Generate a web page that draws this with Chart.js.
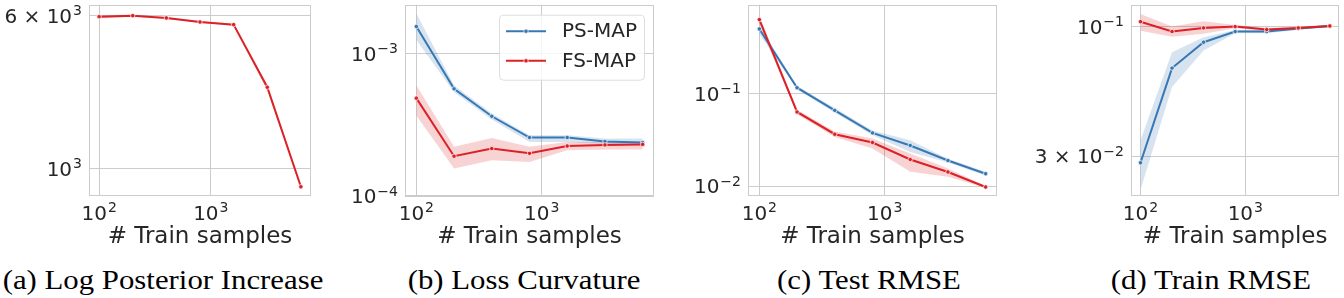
<!DOCTYPE html>
<html>
<head>
<meta charset="utf-8">
<script src="https://cdn.jsdelivr.net/npm/chart.js@4.4.1/dist/chart.umd.min.js"></script>
<style>
  html, body { margin: 0; padding: 0; background: #fff; }
  #wrap { position: relative; width: 1344px; height: 298px; overflow: hidden; }
  #wrap canvas { position: absolute; top: 0; }
  .cap {
    position: absolute; top: 266px; width: 400px; text-align: center;
    font-family: "Liberation Serif", "Times New Roman", serif;
    font-size: 28px; line-height: 28px; color: #000;
    white-space: nowrap; transform: scaleX(1.1); transform-origin: center;
  }
</style>
</head>
<body>
<div id="wrap">
  <canvas id="chartA" width="336" height="260" style="left:0px"></canvas>
  <canvas id="chartB" width="336" height="260" style="left:336px"></canvas>
  <canvas id="chartC" width="336" height="260" style="left:672px"></canvas>
  <canvas id="chartD" width="336" height="260" style="left:1008px"></canvas>
</div>
<script>
// ---- data ----
const trainSizes = [100, 200, 400, 800, 1600, 3200, 6400];
const xTickValues = [100, 1000];
const xTickLabels = ["10^2", "10^3"];
const xTitle = "# Train samples";
const seriesNames = ["PS-MAP", "FS-MAP"];
const captions = ["(a) Log Posterior Increase", "(b) Loss Curvature", "(c) Test RMSE", "(d) Train RMSE"];

// (a) log posterior increase, FS-MAP only
const logPostFsMean = [5930, 6000, 5840, 5570, 5400, 2590, 806];
const logPostFsLow  = [5810, 5930, 5780, 5510, 5340, 2490, 790];
const logPostFsHigh = [6050, 6070, 5900, 5630, 5460, 2690, 822];
const yTicksA = [6000, 1000];
const yLabelsA = ["6 × 10^3", "10^3"];

// (b) loss curvature
const curvPsMean = [1.54e-3, 5.64e-4, 3.62e-4, 2.57e-4, 2.57e-4, 2.41e-4, 2.37e-4];
const curvPsLow  = [1.24e-3, 5.34e-4, 3.43e-4, 2.39e-4, 2.39e-4, 2.31e-4, 2.31e-4];
const curvPsHigh = [1.90e-3, 5.96e-4, 3.78e-4, 2.67e-4, 2.67e-4, 2.53e-4, 2.53e-4];
const curvFsMean = [4.85e-4, 1.90e-4, 2.15e-4, 1.99e-4, 2.24e-4, 2.28e-4, 2.30e-4];
const curvFsLow  = [3.67e-4, 1.56e-4, 1.78e-4, 1.73e-4, 2.09e-4, 2.12e-4, 2.12e-4];
const curvFsHigh = [5.96e-4, 2.21e-4, 2.55e-4, 2.21e-4, 2.39e-4, 2.39e-4, 2.40e-4];
const yTicksB = [1e-3, 1e-4];
const yLabelsB = ["10^−3", "10^−4"];

// (c) test RMSE
const testPsMean = [0.502, 0.116, 0.066, 0.0376, 0.0275, 0.0189, 0.0136];
const testPsLow  = [0.444, 0.112, 0.062, 0.0355, 0.0234, 0.0180, 0.0130];
const testPsHigh = [0.546, 0.121, 0.070, 0.0400, 0.0313, 0.0198, 0.0143];
const testFsMean = [0.634, 0.0634, 0.0364, 0.0296, 0.0194, 0.0142, 0.00975];
const testFsLow  = [0.569, 0.0600, 0.0340, 0.0255, 0.0143, 0.0126, 0.0095];
const testFsHigh = [0.700, 0.0670, 0.0390, 0.0327, 0.0225, 0.0155, 0.0100];
const yTicksC = [0.1, 0.01];
const yLabelsC = ["10^−1", "10^−2"];

// (d) train RMSE
const trainPsMean = [0.0282, 0.0680, 0.0865, 0.0955, 0.0955, 0.0982, 0.1006];
const trainPsLow  = [0.0219, 0.0570, 0.0801, 0.0940, 0.0940, 0.0970, 0.0995];
const trainPsHigh = [0.0348, 0.0788, 0.0906, 0.0970, 0.0968, 0.0995, 0.1017];
const trainFsMean = [0.1047, 0.0955, 0.0988, 0.1000, 0.0973, 0.0988, 0.1006];
const trainFsLow  = [0.0963, 0.0911, 0.0935, 0.0985, 0.0960, 0.0975, 0.0995];
const trainFsHigh = [0.1125, 0.1000, 0.1050, 0.1015, 0.0987, 0.1000, 0.1017];
const yTicksD = [0.1, 0.03];
const yLabelsD = ["10^−1", "3 × 10^−2"];

// ---- styling ----
const BLUE = "#3778b4";
const RED = "#dc2126";
const BLUE_FILL = "rgba(55,120,180,0.2)";
const RED_FILL = "rgba(220,33,38,0.2)";
const GRID = "#cccccc";
const TEXT = "#262626";
const FONT = "DejaVu Sans";
const X_RANGE = [81.2, 7882];

Chart.defaults.font.family = FONT;

// draws "10^3" style tick labels with a raised exponent
const supTicks = {
    id: "supTicks",
    afterDraw(chart, args, opts) {
        const { ctx, chartArea } = chart;
        const draw = (label, x, baseline, align) => {
            const [base, exp = ""] = label.split("^");
            ctx.font = `20px "${FONT}"`;
            const wb = ctx.measureText(base).width;
            ctx.font = `14px "${FONT}"`;
            const we = exp ? ctx.measureText(exp).width + 1 : 0;
            const start = align === "right" ? x - wb - we : x - (wb + we) / 2;
            ctx.font = `20px "${FONT}"`;
            ctx.fillText(base, start, baseline);
            if (exp) {
                ctx.font = `14px "${FONT}"`;
                ctx.fillText(exp, start + wb + 1, baseline - 7.7);
            }
        };
        ctx.save();
        ctx.fillStyle = TEXT;
        ctx.textBaseline = "alphabetic";
        ctx.textAlign = "left";
        const xs = chart.scales.x, ys = chart.scales.y;
        opts.xValues.forEach((v, i) => {
            draw(opts.xLabels[i], xs.getPixelForValue(v), chartArea.bottom + 24, "center");
        });
        opts.yValues.forEach((v, i) => {
            draw(opts.yLabels[i], chartArea.left - 7, ys.getPixelForValue(v) + 7.3, "right");
        });
        ctx.restore();
    }
};

// light grey frame round the axes
const frame = {
    id: "frame",
    afterDatasetsDraw(chart) {
        const { ctx, chartArea: a } = chart;
        ctx.save();
        ctx.strokeStyle = GRID;
        ctx.lineWidth = 1;
        ctx.strokeRect(Math.round(a.left) + 0.5, Math.round(a.top) + 0.5,
            Math.round(a.right - a.left) - 1, Math.round(a.bottom - a.top) - 1);
        ctx.restore();
    }
};

// legend box inside the plot (panel b)
const boxLegend = {
    id: "boxLegend",
    afterDraw(chart, args, opts) {
        if (!opts.display) return;
        const { ctx, chartArea: a } = chart;
        const items = chart.data.datasets.filter(d => d.inLegend);
        const w = 145, h = 65;
        const left = a.right - 10 - w, top = a.top + 10;
        ctx.save();
        ctx.fillStyle = "rgba(255,255,255,0.8)";
        ctx.strokeStyle = "#dddddd";
        ctx.lineWidth = 1;
        ctx.beginPath();
        ctx.roundRect(left + 0.5, top + 0.5, w, h, 4);
        ctx.fill();
        ctx.stroke();
        items.forEach((d, i) => {
            const y = top + 16.5 + i * 29.6;
            ctx.strokeStyle = d.borderColor;
            ctx.lineWidth = 2;
            ctx.beginPath();
            ctx.moveTo(left + 7, y);
            ctx.lineTo(left + 47, y);
            ctx.stroke();
            ctx.fillStyle = d.borderColor;
            ctx.strokeStyle = "#fff";
            ctx.lineWidth = 0.7;
            ctx.beginPath();
            ctx.arc(left + 27, y, 2.2, 0, Math.PI * 2);
            ctx.fill();
            ctx.stroke();
            ctx.fillStyle = TEXT;
            ctx.font = `20px "${FONT}"`;
            ctx.textBaseline = "middle";
            ctx.fillText(d.label, left + 63, y + 1);
        });
        ctx.restore();
    }
};

function points(vals) {
    return trainSizes.map((x, i) => ({ x: x, y: vals[i] }));
}

function buildDatasets(series) {
    const bands = [], lines = [];
    series.forEach((s, k) => {
        bands.push({ label: "", data: points(s.low), borderWidth: 0, pointRadius: 0, fill: false, order: 10 });
        bands.push({ label: "", data: points(s.high), borderWidth: 0, pointRadius: 0,
            fill: "-1", backgroundColor: s.fill, order: 10 });
        lines.push({
            label: s.name, inLegend: true, data: points(s.mean),
            borderColor: s.color, backgroundColor: s.color, borderWidth: 2,
            pointRadius: 2.2, pointBackgroundColor: s.color, pointBorderColor: "#fff",
            pointBorderWidth: 0.7, tension: 0, fill: false, order: series.length - k
        });
    });
    return bands.concat(lines);
}

function makePanel(p) {
    const canvas = document.getElementById(p.id);
    if (!canvas) return null;
    return new Chart(canvas, {
        type: "line",
        data: { datasets: buildDatasets(p.series) },
        options: {
            responsive: false,
            animation: false,
            devicePixelRatio: 1,
            events: [],
            layout: { padding: { left: 0, right: p.padRight, top: 4, bottom: 0 } },
            plugins: {
                legend: { display: false },
                tooltip: { enabled: false },
                supTicks: { xValues: xTickValues, xLabels: xTickLabels, yValues: p.yTicks, yLabels: p.yLabels },
                boxLegend: { display: !!p.legend }
            },
            scales: {
                x: {
                    type: "logarithmic", min: X_RANGE[0], max: X_RANGE[1], bounds: "data",
                    grid: { color: GRID, lineWidth: 1, drawTicks: false },
                    border: { display: false },
                    ticks: { display: false },
                    title: { display: true, text: xTitle, color: TEXT,
                        font: { size: 23, family: FONT }, padding: { top: 0, bottom: 9 } },
                    afterBuildTicks: s => {
                        s.ticks = xTickValues.map(v => ({ value: v }));
                        s.min = X_RANGE[0]; s.max = X_RANGE[1];
                    },
                    afterFit: s => { s.height = 64; s.paddingLeft = 0; s.paddingRight = 0; }
                },
                y: {
                    type: "logarithmic", min: p.yRange[0], max: p.yRange[1], bounds: "data",
                    grid: { color: GRID, lineWidth: 1, drawTicks: false },
                    border: { display: false },
                    ticks: { display: false },
                    afterBuildTicks: s => {
                        s.ticks = p.yTicks.map(v => ({ value: v }));
                        s.min = p.yRange[0]; s.max = p.yRange[1];
                    },
                    afterFit: s => { s.width = p.yAxisWidth; s.paddingTop = 0; s.paddingBottom = 0; }
                }
            }
        },
        plugins: [frame, supTicks, boxLegend]
    });
}

const psSeries = (mean, low, high) => ({ name: seriesNames[0], color: BLUE, fill: BLUE_FILL, mean, low, high });
const fsSeries = (mean, low, high) => ({ name: seriesNames[1], color: RED, fill: RED_FILL, mean, low, high });

const panels = [
    { id: "chartA", yAxisWidth: 89, padRight: 25, yRange: [723, 6823], yTicks: yTicksA, yLabels: yLabelsA,
      series: [fsSeries(logPostFsMean, logPostFsLow, logPostFsHigh)] },
    { id: "chartB", yAxisWidth: 69, padRight: 18, yRange: [1e-4, 2.19e-3], yTicks: yTicksB, yLabels: yLabelsB, legend: true,
      series: [psSeries(curvPsMean, curvPsLow, curvPsHigh), fsSeries(curvFsMean, curvFsLow, curvFsHigh)] },
    { id: "chartC", yAxisWidth: 76, padRight: 11, yRange: [0.0078, 0.919], yTicks: yTicksC, yLabels: yLabelsC,
      series: [psSeries(testPsMean, testPsLow, testPsHigh), fsSeries(testFsMean, testFsLow, testFsHigh)] },
    { id: "chartD", yAxisWidth: 123, padRight: 4, yRange: [0.0207, 0.1226], yTicks: yTicksD, yLabels: yLabelsD,
      series: [psSeries(trainPsMean, trainPsLow, trainPsHigh), fsSeries(trainFsMean, trainFsLow, trainFsHigh)] }
];

const captionCenters = [162.5, 524.3, 869.2, 1210.8];

panels.forEach(makePanel);

const wrap = document.getElementById("wrap");
captions.forEach((text, i) => {
    const div = document.createElement("div");
    div.className = "cap";
    div.textContent = text;
    div.style.left = (captionCenters[i] - 200) + "px";
    wrap.appendChild(div);
});
</script>
</body>
</html>
